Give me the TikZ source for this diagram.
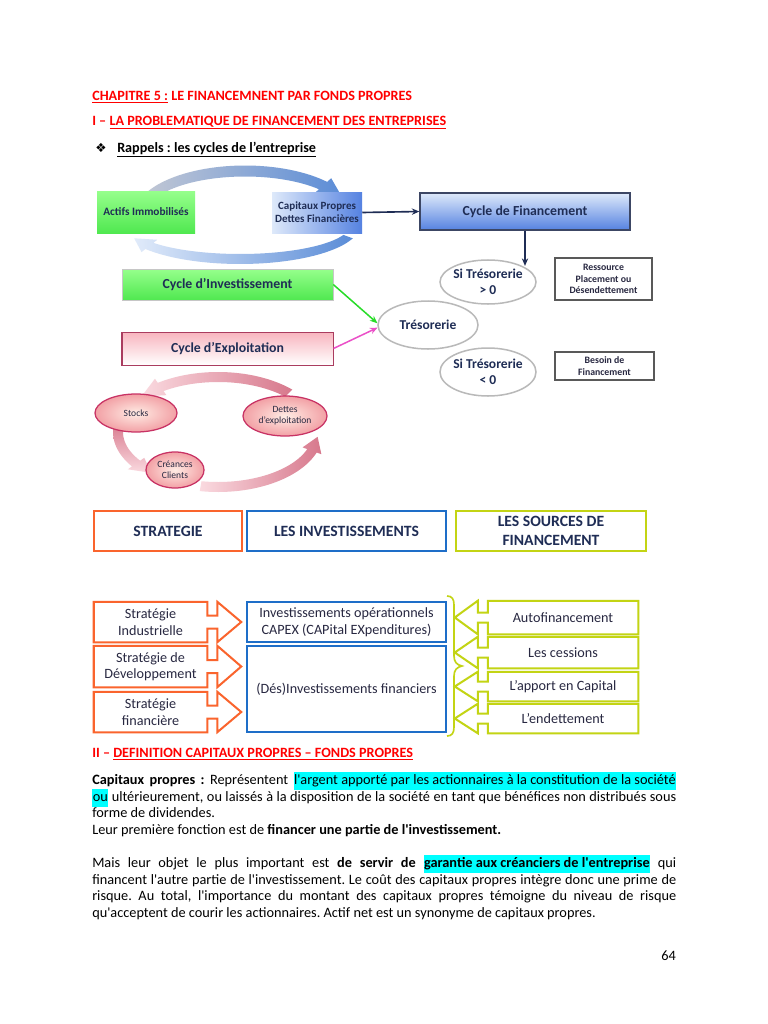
\documentclass[tikz,border=0pt]{standalone}
\usepackage{fontspec}
\setmainfont{Carlito}
\newfontfamily\dejavu{DejaVu Sans}
\usetikzlibrary{shapes.geometric,calc,arrows.meta}
\newdimen\px \px=0.796875pt
\definecolor{hred}{RGB}{255,0,0}
\definecolor{navy}{RGB}{31,45,85}
\definecolor{dtxt}{RGB}{40,40,65}
\definecolor{orng}{RGB}{250,100,45}
\definecolor{bblue}{RGB}{30,110,200}
\definecolor{ygreen}{RGB}{195,212,20}
\definecolor{hl}{RGB}{0,255,255}
\definecolor{gA}{RGB}{150,255,140}
\definecolor{gB}{RGB}{80,232,80}
\definecolor{bA}{RGB}{222,233,250}
\definecolor{bB}{RGB}{85,130,225}
\definecolor{pA}{RGB}{248,180,190}
\definecolor{pEdge}{RGB}{170,60,95}
\definecolor{cEdge}{RGB}{200,50,100}
\definecolor{arwA}{RGB}{195,200,212}
\definecolor{arwB}{RGB}{90,140,215}
\definecolor{arwC}{RGB}{225,235,250}
\definecolor{pkA}{RGB}{250,218,224}
\definecolor{pkB}{RGB}{215,120,140}
\definecolor{elA}{RGB}{255,236,228}
\definecolor{elB}{RGB}{242,160,165}
\definecolor{fedge}{RGB}{60,70,100}
\definecolor{garr}{RGB}{40,220,40}
\definecolor{marr}{RGB}{235,80,200}
\newcommand{\sq}{\textquotesingle}
% curved band arrow: style, cx, cy, rx, ry, a1, a2, tip angle, width
\newcommand{\carrow}[9]{%
  \shade[#1] plot[domain=#6:#7,samples=40] ({#2+(#4+#9/2)*cos(\x)},{#3+(#5+#9/2)*sin(\x)})
   -- ({#2+(#4+#9)*cos(#7)},{#3+(#5+#9)*sin(#7)})
   -- ({#2+#4*cos(#8)},{#3+#5*sin(#8)})
   -- ({#2+(#4-#9)*cos(#7)},{#3+(#5-#9)*sin(#7)})
   -- plot[domain=#7:#6,samples=40] ({#2+(#4-#9/2)*cos(\x)},{#3+(#5-#9/2)*sin(\x)}) -- cycle;}
% right callout around body node: node, shaft len, head len, shaft half height, style
\newcommand{\rcall}[5]{%
  \draw[#5] (#1.north west) -- (#1.north east) -- ($(#1.east)+(0,-#4)$) -- ($(#1.east)+(#2,-#4)$)
   -- ($(#1.north east)+(#2,0)$) -- ($(#1.east)+(#2+#3,0)$) -- ($(#1.south east)+(#2,0)$)
   -- ($(#1.east)+(#2,#4)$) -- ($(#1.east)+(0,#4)$) -- (#1.south east) -- (#1.south west) -- cycle;}
\newcommand{\lcall}[5]{%
  \draw[#5] (#1.north east) -- (#1.north west) -- ($(#1.west)+(0,-#4)$) -- ($(#1.west)+(-#2,-#4)$)
   -- ($(#1.north west)+(-#2,0)$) -- ($(#1.west)+(-#2-#3,0)$) -- ($(#1.south west)+(-#2,0)$)
   -- ($(#1.west)+(-#2,#4)$) -- ($(#1.west)+(0,#4)$) -- (#1.south west) -- (#1.south east) -- cycle;}
\tikzset{
  bodytext/.style={anchor=base west, inner sep=0, font=\fontsize{11.4}{13.6}\selectfont},
  headtext/.style={anchor=base west, inner sep=0, font=\fontsize{11.3}{13.6}\selectfont\bfseries, text=hred},
  cbox/.style={inner sep=0, align=center, text=navy},
  tell/.style={ellipse, draw=gray!55, line width=1.2pt, fill=white, inner xsep=-5pt, inner ysep=-2pt, align=center, text=navy, font=\fontsize{10.8}{12.5}\selectfont\bfseries},
  pell/.style={ellipse, draw=cEdge, line width=1pt, inner color=elA, outer color=elB, inner xsep=-3pt, inner ysep=-2pt, align=center, text=dtxt, font=\fontsize{7.6}{9}\selectfont},
  gbox/.style={draw=gray!70!black, line width=1pt, fill=white, inner sep=0, align=center, text=dtxt, font=\fontsize{7.8}{9.3}\selectfont\bfseries},
  hdbox/.style={draw, line width=1.6pt, inner sep=0, align=center, text=navy, font=\fontsize{12.5}{14.5}\selectfont\bfseries, minimum height=40\px},
  sbody/.style={inner sep=0, align=center, text=dtxt, font=\fontsize{11.3}{13.2}\selectfont},
  orline/.style={draw=orng, line width=1.6pt, line join=miter},
  ygline/.style={draw=ygreen, line width=1.6pt, line join=miter},
  navyarr/.style={draw=navy, line width=1.3pt, -{Stealth[length=6pt,width=5pt]}},
}
\frenchspacing
\begin{document}
\begin{tikzpicture}[x=0.796875pt,y=-0.796875pt]
\fill[white] (0,0) rectangle (768,1024);
\useasboundingbox (0,0) rectangle (768,1024);

% ---------- headings ----------
\node[headtext] (h1) at (92,100) {\underline{CHAPITRE 5 :} LE FINANCEMNENT PAR FONDS PROPRES};
\node[headtext] (h2) at (92,125) {I -- \underline{LA PROBLEMATIQUE DE FINANCEMENT DES ENTREPRISES}};
\node[anchor=base west, inner sep=0, font=\dejavu\fontsize{10}{12}\selectfont] (bul) at (95,152) {❖};
\node[anchor=base west, inner sep=0, font=\fontsize{11.3}{13.6}\selectfont\bfseries] (h3) at (117,152) {\underline{Rappels : les cycles de l’entreprise}};

% ---------- financing cycle ----------
\carrow{left color=arwA,right color=arwB}{245}{215}{105}{44}{200}{318}{340}{11}
\carrow{left color=arwC,right color=arwB}{240}{225}{115}{34}{20}{142}{157}{10}
\node[cbox, minimum width=98\px, minimum height=42\px, top color=gA, bottom color=gB, font=\fontsize{9}{10.5}\selectfont\bfseries] (ai) at (146,212) {Actifs Immobilisés};
\node[cbox, minimum width=90\px, minimum height=41\px, left color=bA, right color=bB, font=\fontsize{8.8}{10.5}\selectfont\bfseries] (cp) at (317,212.5) {Capitaux Propres\\Dettes Financières};
\node[cbox, minimum width=210\px, minimum height=37\px, top color=bA, bottom color=bB, draw=fedge, line width=1pt, font=\fontsize{11}{13}\selectfont\bfseries] (cf) at (525,211.5) {Cycle de Financement};
\draw[navyarr] (cp.east) -- (cf.west);

\node[tell, minimum width=96\px, minimum height=44\px] (sp) at (488,282) {Si Trésorerie\\> 0};
\node[tell, minimum width=100\px, minimum height=48\px] (tr) at (428,325) {Trésorerie};
\node[tell, minimum width=96\px, minimum height=48\px] (sn) at (488,372) {Si Trésorerie\\< 0};
\draw[navyarr] (cf.south) -- (cf.south |- sp.25);
\node[gbox, minimum width=97\px, minimum height=42\px] (rp) at (603.5,279) {Ressource\\Placement ou\\Désendettement};
\node[gbox, minimum width=99\px, minimum height=28\px] (bf) at (604.5,366) {Besoin de\\Financement};

\node[cbox, minimum width=211\px, minimum height=31\px, top color=gA, bottom color=gB, draw=gray!45, font=\fontsize{11}{13}\selectfont\bfseries] (ci) at (227.5,284.5) {Cycle d’Investissement};
\node[cbox, minimum width=211\px, minimum height=33\px, top color=pA, bottom color=white, draw=pEdge, line width=0.8pt, font=\fontsize{11}{13}\selectfont\bfseries] (ce) at (227.5,348.5) {Cycle d’Exploitation};
\draw[draw=garr, line width=1.2pt, -{Stealth[length=6pt,width=5pt]}] (ci.east) -- (tr.178);
\draw[draw=marr, line width=1.2pt, -{Stealth[length=6pt,width=5pt]}] (ce.east) -- (tr.183);

% ---------- operating cycle ----------
\carrow{left color=pkA,right color=pkB}{218}{432}{100}{55}{315}{235}{220}{10}
\carrow{top color=pkB,bottom color=pkA}{218}{432}{100}{55}{190}{145}{132}{10}
\carrow{left color=pkA,right color=pkB}{218}{432}{100}{55}{100}{20}{5}{10}
\node[pell, minimum width=82\px, minimum height=38\px] (st) at (136,413) {Stocks};
\node[pell, minimum width=84\px, minimum height=40\px] (de) at (285,416) {Dettes\\d’exploitation};
\node[pell, minimum width=58\px, minimum height=36\px] (cc) at (175,470) {Créances\\Clients};

% ---------- strategy table ----------
\node[hdbox, draw=orng, minimum width=148\px] (hs) at (168,531) {STRATEGIE};
\node[hdbox, draw=bblue, minimum width=199\px] (hi) at (346.5,531) {LES INVESTISSEMENTS};
\node[hdbox, draw=ygreen, minimum width=190\px] (hf) at (551,531) {LES SOURCES DE\\FINANCEMENT};

\node[sbody, minimum width=113\px, minimum height=40\px] (s1) at (150.5,622) {Stratégie\\Industrielle};
\node[sbody, minimum width=113\px, minimum height=41\px] (s2) at (150.5,666.5) {Stratégie de\\Développement};
\node[sbody, minimum width=113\px, minimum height=40\px] (s3) at (150.5,712) {Stratégie\\financière};
\rcall{s1}{10}{24}{6.5}{orline}
\rcall{s2}{10}{24}{6.5}{orline}
\rcall{s3}{10}{24}{6.5}{orline}

\node[sbody, draw=bblue, line width=1.6pt, minimum width=199\px, minimum height=40\px] (i1) at (346.5,622) {Investissements opérationnels\\CAPEX (CAPital EXpenditures)};
\node[sbody, draw=bblue, line width=1.6pt, minimum width=199\px, minimum height=86\px] (i2) at (346.5,689) {(Dés)Investissements financiers};

\draw[draw=ygreen, line width=1.3pt] (447,596) .. controls (452,596) and (454,599) .. (454,605) -- (454,656) .. controls (454,662) and (457,665) .. (462,666) .. controls (457,667) and (454,670) .. (454,676) -- (454,727) .. controls (454,733) and (452,736) .. (447,736);

\node[sbody, minimum width=150\px, minimum height=33\px] (f1) at (563,617.5) {Autofinancement};
\node[sbody, minimum width=150\px, minimum height=31\px] (f2) at (563,652.5) {Les cessions};
\node[sbody, minimum width=150\px, minimum height=29\px] (f3) at (563,686.5) {L’apport en Capital};
\node[sbody, minimum width=150\px, minimum height=29\px] (f4) at (563,718.5) {L’endettement};
\lcall{f1}{10}{23}{5}{ygline}
\lcall{f2}{10}{23}{5}{ygline}
\lcall{f3}{10}{23}{5}{ygline}
\lcall{f4}{10}{23}{5}{ygline}

% ---------- section II ----------
\node[headtext] (h4) at (92,757) {II -- \underline{DEFINITION CAPITAUX PROPRES -- FONDS PROPRES}};
\setlength{\fboxsep}{0.4pt}
\node[bodytext] (l1) at (92,784) {\makebox[584\px][s]{\textbf{Capitaux propres :} Représentent \colorbox{hl}{\strut l\sq argent apporté par les actionnaires à la constitution de la société}}};
\node[bodytext] (l2) at (92,801) {\makebox[584\px][s]{\colorbox{hl}{\strut ou} ultérieurement, ou laissés à la disposition de la société en tant que bénéfices non distribués sous}};
\node[bodytext] (l3) at (92,817) {forme de dividendes.};
\node[bodytext] (l4) at (92,834) {Leur première fonction est de \textbf{financer une partie de l\sq investissement.}};
\node[bodytext] (l6) at (92,867) {\makebox[584\px][s]{Mais leur objet le plus important est \textbf{de servir de} \colorbox{hl}{\strut\textbf{garantie aux créanciers de l\sq entreprise}} qui}};
\node[bodytext] (l7) at (92,884) {\makebox[584\px][s]{financent l\sq autre partie de l\sq investissement. Le coût des capitaux propres intègre donc une prime de}};
\node[bodytext] (l8) at (92,900) {\makebox[584\px][s]{risque. Au total, l\sq importance du montant des capitaux propres témoigne du niveau de risque}};
\node[bodytext] (l9) at (92,917) {qu\sq acceptent de courir les actionnaires. Actif net est un synonyme de capitaux propres.};
\node[bodytext] (pg) at (661,960) {64};
\end{tikzpicture}
\end{document}
